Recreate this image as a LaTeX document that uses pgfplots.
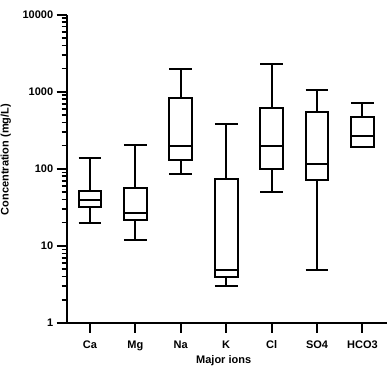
\documentclass[border=0pt]{standalone}
\usepackage{fontspec}
\setmainfont{Liberation Sans}
\usepackage{pgfplots}
\pgfplotsset{compat=1.18}
\pgfplotsset{bx/.style={black, solid, mark=none, line width=2pt, line join=miter}}
\begin{document}
\begin{tikzpicture}
\begin{axis}[
  at={(0pt,0pt)}, anchor=south west,
  scale only axis, width=320pt, height=308pt,
  ymode=log, ymin=1, ymax=10000,
  xmin=0.49, xmax=7.54,
  axis x line*=bottom, axis y line*=left,
  axis line style={line width=2pt, -},
  xtick={1,2,3,4,5,6,7}, xticklabels={Ca,Mg,Na,K,Cl,SO4,HCO3},
  tick align=outside,
  major tick length=10pt, minor tick length=5pt,
  every major tick/.style={black, line width=2pt},
  every minor tick/.style={black, line width=1.6pt},
  yticklabel={\pgfmathparse{int(round(exp(\tick)))}\pgfmathresult},
  ticklabel style={font=\fontsize{11}{13}\selectfont\bfseries},
  xticklabel style={yshift=-4pt},
  xlabel={Major ions}, ylabel={Concentration (mg/L)},
  every axis x label/.style={at={(axis description cs:0.49,-0.121)}, anchor=center, font=\fontsize{11}{13}\selectfont\bfseries},
  every axis y label/.style={at={(axis description cs:-0.19,0.53)}, rotate=90, anchor=center, font=\fontsize{11}{13}\selectfont\bfseries},
  clip=false,
  unbounded coords=jump,
]
% Ca
\addplot[bx] coordinates {(0.75,19.8) (1.25,19.8) (nan,nan) (1,19.8) (1,31.8) (nan,nan)
 (1,31.8) (1.25,31.8) (1.25,52) (0.75,52) (0.75,31.8) (1,31.8) (nan,nan)
 (0.75,39) (1.25,39) (nan,nan) (1,52) (1,139) (nan,nan) (0.75,139) (1.25,139)};
% Mg
\addplot[bx] coordinates {(1.75,11.9) (2.25,11.9) (nan,nan) (2,11.9) (2,21.8) (nan,nan)
 (2,21.8) (2.25,21.8) (2.25,55.6) (1.75,55.6) (1.75,21.8) (2,21.8) (nan,nan)
 (1.75,26.7) (2.25,26.7) (nan,nan) (2,55.6) (2,205) (nan,nan) (1.75,205) (2.25,205)};
% Na
\addplot[bx] coordinates {(2.75,86.5) (3.25,86.5) (nan,nan) (3,86.5) (3,129) (nan,nan)
 (3,129) (3.25,129) (3.25,821) (2.75,821) (2.75,129) (3,129) (nan,nan)
 (2.75,200) (3.25,200) (nan,nan) (3,821) (3,1995) (nan,nan) (2.75,1995) (3.25,1995)};
% K
\addplot[bx] coordinates {(3.75,2.98) (4.25,2.98) (nan,nan) (4,2.98) (4,3.98) (nan,nan)
 (4,3.98) (4.25,3.98) (4.25,72.7) (3.75,72.7) (3.75,3.98) (4,3.98) (nan,nan)
 (3.75,4.92) (4.25,4.92) (nan,nan) (4,72.7) (4,384) (nan,nan) (3.75,384) (4.25,384)};
% Cl
\addplot[bx] coordinates {(4.75,49.9) (5.25,49.9) (nan,nan) (5,49.9) (5,98.3) (nan,nan)
 (5,98.3) (5.25,98.3) (5.25,610) (4.75,610) (4.75,98.3) (5,98.3) (nan,nan)
 (4.75,197) (5.25,197) (nan,nan) (5,610) (5,2309) (nan,nan) (4.75,2309) (5.25,2309)};
% SO4
\addplot[bx] coordinates {(5.75,4.92) (6.25,4.92) (nan,nan) (6,4.92) (6,71.5) (nan,nan)
 (6,71.5) (6.25,71.5) (6.25,542) (5.75,542) (5.75,71.5) (6,71.5) (nan,nan)
 (5.75,117) (6.25,117) (nan,nan) (6,542) (6,1045) (nan,nan) (5.75,1045) (6.25,1045)};
% HCO3
\addplot[bx] coordinates {(6.75,190) (7.25,190) (nan,nan) (7,190) (7,193) (nan,nan)
 (7,193) (7.25,193) (7.25,470) (6.75,470) (6.75,193) (7,193) (nan,nan)
 (6.75,263) (7.25,263) (nan,nan) (7,470) (7,711) (nan,nan) (6.75,711) (7.25,711)};
\end{axis}
\pgfresetboundingbox
\path (-66.7pt,-43.3pt) rectangle (320pt,322.7pt);
\end{tikzpicture}
\end{document}
